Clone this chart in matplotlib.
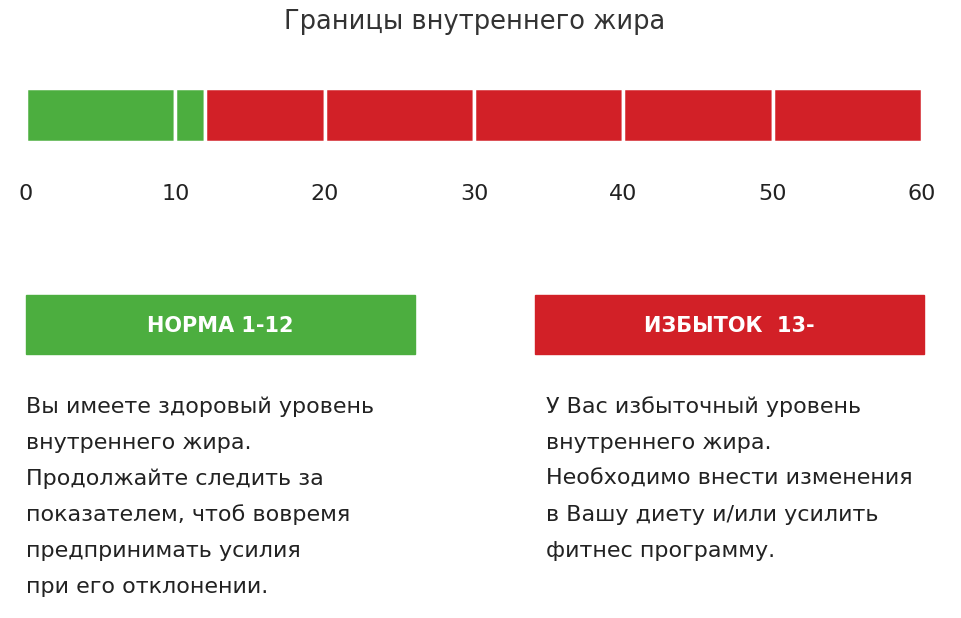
import matplotlib
matplotlib.use("Agg")
import matplotlib.pyplot as plt
from matplotlib.patches import Rectangle

plt.rcParams["font.family"] = "DejaVu Sans"

title = "Границы внутреннего жира"
seg_start = [0, 10, 12, 20, 30, 40, 50]
seg_end = [10, 12, 20, 30, 40, 50, 60]
norm_limit = 12
ticks = [0, 10, 20, 30, 40, 50, 60]
green, red = "#4cae3f", "#d22027"
box_labels = ["НОРМА 1-12", "ИЗБЫТОК  13-"]
left_text = ["Вы имеете здоровый уровень", "внутреннего жира.",
             "Продолжайте следить за", "показателем, чтоб вовремя",
             "предпринимать усилия", "при его отклонении."]
right_text = ["У Вас избыточный уровень", "внутреннего жира.",
              "Необходимо внести изменения", "в Вашу диету и/или усилить",
              "фитнес программу."]

W, H = 961, 618
fig = plt.figure(figsize=(W/100, H/100), dpi=100)
fig.patch.set_facecolor("white")

ax = fig.add_axes([26/W, 1-142/H, (922-26)/W, 54/H])
for s, e in zip(seg_start, seg_end):
    ax.barh(0, e - s, left=s, height=1, color=green if e <= norm_limit else red,
            edgecolor="white", linewidth=2.5)
ax.set_xlim(0, 60)
ax.set_ylim(-0.5, 0.5)
ax.set_yticks([])
ax.set_xticks(ticks)
ax.tick_params(axis="x", length=0, pad=30, labelsize=16, colors="#222222")
for sp in ax.spines.values():
    sp.set_visible(False)

fig.text(475/W, 1-22/H, title, ha="center", va="center", fontsize=18.5, color="#333333")

ov = fig.add_axes([0, 0, 1, 1])
ov.set_xlim(0, W); ov.set_ylim(H, 0); ov.axis("off")
for x0, col, lab in [(26, green, box_labels[0]), (535, red, box_labels[1])]:
    ov.add_patch(Rectangle((x0, 295), 389, 59, color=col))
    ov.text(x0 + 194, 326, lab, ha="center", va="center", color="white",
            fontsize=15, fontweight="bold")
for x0, lines in [(26, left_text), (546, right_text)]:
    for i, t in enumerate(lines):
        ov.text(x0, 407 + 36*i, t, ha="left", va="center", fontsize=16, color="#222222")

fig.savefig("out.png", dpi=100)
